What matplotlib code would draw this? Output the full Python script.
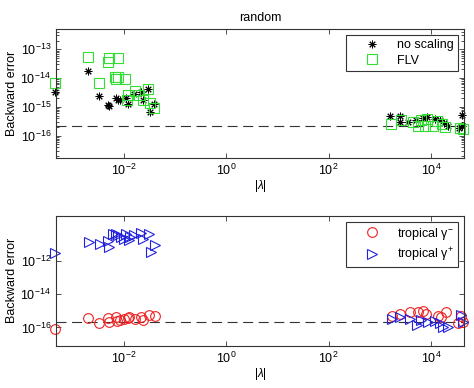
import numpy as np
import matplotlib
matplotlib.use("Agg")
import matplotlib.pyplot as plt

plt.rcParams['font.family'] = ['Liberation Sans', 'DejaVu Sans']
plt.rcParams['mathtext.fontset'] = 'custom'
plt.rcParams['mathtext.rm'] = 'Liberation Sans'
plt.rcParams['mathtext.it'] = 'Liberation Sans:italic'
plt.rcParams['font.size'] = 8

# --- data ---
eps_mach = 2.22e-16

# top panel: no scaling (asterisks)
ns_lam = [4.6e-4, 2.0e-3, 3.3e-3, 5.0e-3, 5.1e-3, 7.0e-3, 7.8e-3, 8.7e-3,
          1.1e-2, 1.2e-2, 1.6e-2, 2.2e-2, 2.4e-2, 3.0e-2, 3.3e-2, 4.0e-2,
          1.6e3, 2.5e3, 2.5e3, 3.5e3, 5.1e3, 6.9e3, 8.5e3, 1.17e4,
          1.48e4, 1.78e4, 2.1e4, 4.0e4, 3.5e4, 4.1e4]
ns_err = [3.4e-15, 1.7e-14, 2.3e-15, 1.2e-15, 1.1e-15, 2.0e-15, 1.7e-15, 1.7e-15,
          2.0e-15, 1.3e-15, 2.8e-15, 3.4e-15, 1.7e-15, 4.2e-15, 6.9e-16, 1.3e-15,
          4.9e-16, 4.9e-16, 3.1e-16, 2.9e-16, 3.5e-16, 4.1e-16, 4.4e-16, 3.8e-16,
          3.4e-16, 2.8e-16, 2.1e-16, 5.2e-16, 1.9e-16, 2.2e-16]

# top panel: FLV (squares)
flv_lam = [4.6e-4, 2.0e-3, 5.1e-3, 5.0e-3, 7.9e-3, 3.3e-3, 6.8e-3, 7.2e-3, 7.8e-3,
           1.05e-2, 1.2e-2, 1.15e-2, 1.7e-2, 2.0e-2, 2.45e-2, 3.0e-2, 3.3e-2, 4.0e-2,
           1.65e3, 2.6e3, 4.5e3, 5.5e3, 6.5e3, 7.5e3, 8.5e3, 1.1e4, 1.3e4,
           1.6e4, 1.9e4, 3.7e4, 4.2e4]
flv_err = [6.6e-15, 5.4e-14, 5.0e-14, 3.6e-14, 4.8e-14, 6.6e-15, 1.05e-14, 9.1e-15, 1.05e-14,
           9.1e-15, 2.6e-15, 1.7e-15, 3.6e-15, 2.6e-15, 1.7e-15, 4.2e-15, 1.35e-15, 8.9e-16,
           2.6e-16, 3.5e-16, 3.0e-16, 2.2e-16, 3.6e-16, 2.2e-16, 3.8e-16, 2.2e-16, 3.3e-16,
           2.5e-16, 2.0e-16, 1.8e-16, 1.7e-16]

# bottom panel: tropical gamma^- (circles)
tm_lam = [4.6e-4, 2.05e-3, 3.3e-3, 5.0e-3, 5.1e-3, 7.0e-3, 7.5e-3, 8.7e-3,
          1.0e-2, 1.26e-2, 1.2e-2, 1.7e-2, 2.2e-2, 2.4e-2, 3.2e-2, 4.2e-2,
          1.7e3, 2.45e3, 3.9e3, 5.6e3, 6.9e3, 8.1e3, 1.38e4, 1.55e4,
          2.0e4, 3.3e4, 4.2e4, 3.9e4]
tm_err = [8.3e-17, 3.6e-16, 1.8e-16, 3.9e-16, 2.2e-16, 4.2e-16, 2.6e-16, 2.9e-16,
          3.2e-16, 4.5e-16, 3.6e-16, 3.2e-16, 4.2e-16, 2.9e-16, 5.8e-16, 5.0e-16,
          5.0e-16, 6.6e-16, 8.9e-16, 8.9e-16, 1.02e-15, 6.6e-16, 5.0e-16, 4.5e-16,
          8.9e-16, 1.8e-16, 2.2e-16, 5.0e-16]

# bottom panel: tropical gamma^+ (triangles)
tp_lam = [4.6e-4, 2.1e-3, 3.4e-3, 5.0e-3, 5.1e-3, 6.2e-3, 7.0e-3, 7.8e-3, 9.0e-3,
          1.1e-2, 1.0e-2, 1.26e-2, 1.32e-2, 1.6e-2, 2.2e-2, 2.45e-2, 3.1e-2, 3.5e-2, 4.2e-2,
          1.74e3, 2.45e3, 3.9e3, 5.4e3, 6.5e3, 8.7e3, 1.17e4, 1.48e4, 1.7e4,
          2.14e4, 3.9e4, 4.2e4]
tp_err = [2.9e-12, 1.45e-11, 1.05e-11, 1.66e-11, 6.6e-12, 4.0e-11, 4.2e-11, 3.6e-11, 2.9e-11,
          4.2e-11, 2.0e-11, 1.8e-11, 2.6e-11, 3.6e-11, 4.6e-11, 2.0e-11, 4.2e-11, 3.6e-12, 9.1e-12,
          3.2e-16, 4.2e-16, 3.2e-16, 1.45e-16, 2.9e-16, 2.2e-16, 2.6e-16, 1.8e-16, 1.1e-16,
          1.1e-16, 5.8e-16, 2.0e-16]

xlim = (4.8e-4, 4.4e4)

fig = plt.figure(figsize=(4.74, 3.88), dpi=100)
ax1 = fig.add_axes([0.118, 0.593, 0.861, 0.332])
ax2 = fig.add_axes([0.118, 0.109, 0.861, 0.335])

green = '#33dd33'
red = '#ee2222'
blue = '#2222dd'

ax1.plot(ns_lam, ns_err, ls='none', marker=(8, 2, 0), ms=5.5, mew=0.7,
         color='k', label='no scaling', clip_on=False)
ax1.plot(flv_lam, flv_err, ls='none', marker='s', ms=6.5, mew=0.8,
         mfc='none', mec=green, label='FLV', clip_on=False)
ax1.axhline(eps_mach, color='#333333', ls=(0, (9, 5)), lw=0.8, zorder=0)

ax2.plot(tm_lam, tm_err, ls='none', marker='o', ms=7, mew=0.8,
         mfc='none', mec=red, label='tropical γ$^{-}$', clip_on=False)
ax2.plot(tp_lam, tp_err, ls='none', marker='>', ms=7, mew=0.8,
         mfc='none', mec=blue, label='tropical γ$^{+}$', clip_on=False)
ax2.axhline(eps_mach, color='#333333', ls=(0, (9, 5)), lw=0.8, zorder=0)

ax1.set_ylim(1.7e-17, 5e-13)
ax2.set_ylim(8e-18, 5.2e-10)

for ax in (ax1, ax2):
    ax.set_xscale('log')
    ax.set_yscale('log')
    ax.set_xlim(*xlim)
    ax.set_xticks([1e-2, 1e0, 1e2, 1e4])
    ax.xaxis.set_minor_locator(matplotlib.ticker.NullLocator())
    ax.tick_params(which='both', direction='in', top=True, right=True,
                   labelsize=9, width=0.6, color='#333333')
    ax.tick_params(which='major', length=3.5)
    ax.tick_params(which='minor', length=2)
    for sp in ax.spines.values():
        sp.set_linewidth(0.8)
        sp.set_color('#333333')
    ax.set_xlabel(r'|$\lambda$|', fontsize=8.5, labelpad=0)
    ax.set_ylabel('Backward error', fontsize=9, labelpad=2)

ax1.set_yticks([1e-16, 1e-15, 1e-14, 1e-13])
ax1.yaxis.set_minor_locator(matplotlib.ticker.LogLocator(base=10, subs=np.arange(2, 10), numticks=20))
ax2.set_yticks([1e-16, 1e-14, 1e-12])
ax2.yaxis.set_minor_locator(matplotlib.ticker.NullLocator())

ax1.set_title('random', fontsize=9, pad=6)

for ax in (ax1, ax2):
    leg = ax.legend(loc='upper right', fontsize=9, frameon=True, fancybox=False,
                    borderaxespad=0.5, handletextpad=0.2, borderpad=0.3,
                    labelspacing=0.3, handlelength=3.6)
    leg.get_frame().set_edgecolor('k')
    leg.get_frame().set_linewidth(0.8)

fig.savefig('out.png', dpi=100)
